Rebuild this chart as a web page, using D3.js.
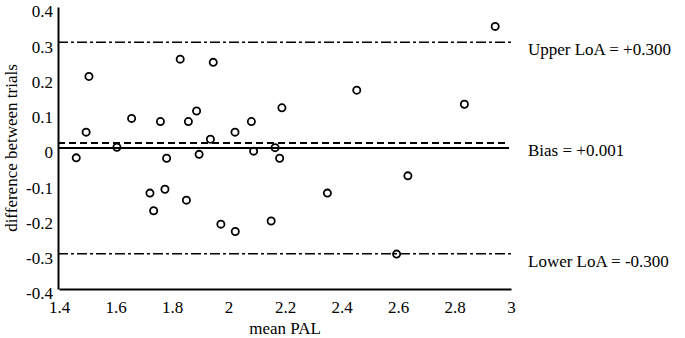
<!DOCTYPE html>
<html>
<head>
<meta charset="utf-8">
<script src="https://cdn.jsdelivr.net/npm/d3@7"></script>
<style>
  body { margin: 0; background: #fff; }
  svg { display: block; font-family: "Liberation Serif", "Times New Roman", serif; }
</style>
</head>
<body>
<div id="chart"></div>
<script>
// mean PAL of the two trials
const meanPAL = [
  1.461, 1.496, 1.506, 1.605, 1.657, 1.722, 1.735, 1.759,
  1.775, 1.781, 1.829, 1.851, 1.858, 1.887, 1.896, 1.936,
  1.946, 1.973, 2.023, 2.024, 2.081, 2.089, 2.151, 2.165,
  2.181, 2.189, 2.350, 2.454, 2.595, 2.635, 2.835, 2.944
];
// difference between trials
const diffPAL = [
  -0.028, 0.045, 0.203, 0.002, 0.084, -0.128, -0.178, 0.075,
  -0.117, -0.029, 0.252, -0.148, 0.075, 0.105, -0.018, 0.025,
  0.243, -0.216, 0.045, -0.237, 0.075, -0.009, -0.207, 0.001,
  -0.029, 0.114, -0.128, 0.164, -0.301, -0.079, 0.124, 0.345
];

const xTicks = [1.4, 1.6, 1.8, 2, 2.2, 2.4, 2.6, 2.8, 3];
const yTicks = [-0.4, -0.3, -0.2, -0.1, 0, 0.1, 0.2, 0.3, 0.4];

// reference lines: value on y, label text
const refNames = ["upper", "bias", "zero", "lower"];
const refValues = [0.3, 0.014, 0, -0.3];
const refLabels = ["Upper LoA = +0.300", "Bias = +0.001", "", "Lower LoA = -0.300"];

const width = 685, height = 338;
const fontSize = 17;

const svg = d3.select("#chart")
  .append("svg")
  .attr("width", width)
  .attr("height", height);

svg.append("rect").attr("width", width).attr("height", height).attr("fill", "#fff");

const x = d3.scaleLinear().domain([1.4, 3]).range([59, 511]);
const y = d3.scaleLinear().domain([-0.4, 0.4]).range([289, 7]);

const fmt = d => d === 0 ? "0" : String(d);

// x axis
const xAxis = svg.append("g")
  .attr("transform", `translate(0, ${y(-0.4)})`)
  .call(d3.axisBottom(x).tickValues(xTicks).tickFormat(fmt).tickSize(0).tickPadding(12));

// y axis
const yAxis = svg.append("g")
  .attr("transform", `translate(${x(1.4) - 1}, 0)`)
  .call(d3.axisLeft(y).tickValues(yTicks).tickFormat(fmt).tickSize(0).tickPadding(5));

[xAxis, yAxis].forEach(ax => {
  ax.select(".domain").attr("stroke", "#000").attr("stroke-width", 2);
  ax.selectAll("text")
    .attr("font-family", "'Liberation Serif', serif")
    .attr("font-size", fontSize)
    .attr("fill", "#000");
});
yAxis.selectAll("text").attr("dy", "0.58em");

// reference lines
const dashes = { upper: "10,3,3,3", bias: "7,4", zero: null, lower: "10,3,3,3" };
const widths = { upper: 1.5, bias: 2, zero: 2, lower: 1.5 };

const refs = refNames.map((n, i) => ({ name: n, value: refValues[i], label: refLabels[i] }));

svg.append("g").selectAll("line")
  .data(refs)
  .join("line")
  .attr("x1", x(1.4) - 1)
  .attr("x2", d => x(3) + (d.name === "upper" || d.name === "lower" ? 2 : -2))
  .attr("y1", d => y(d.value))
  .attr("y2", d => y(d.value))
  .attr("stroke", "#000")
  .attr("stroke-width", d => widths[d.name])
  .attr("stroke-dasharray", d => dashes[d.name]);

svg.append("g").selectAll("text")
  .data(refs.filter(d => d.label))
  .join("text")
  .attr("x", x(3) + 17)
  .attr("y", d => y(d.value))
  .attr("dy", "0.75em")
  .attr("font-size", fontSize)
  .attr("fill", "#000")
  .text(d => d.label);

// points
svg.append("g").selectAll("circle")
  .data(meanPAL.map((m, i) => [m, diffPAL[i]]))
  .join("circle")
  .attr("cx", d => x(d[0]))
  .attr("cy", d => y(d[1]))
  .attr("r", 3.6)
  .attr("fill", "none")
  .attr("stroke", "#000")
  .attr("stroke-width", 1.8);

// axis titles
svg.append("text")
  .attr("x", (x(1.4) + x(3)) / 2)
  .attr("y", 334)
  .attr("text-anchor", "middle")
  .attr("font-size", fontSize)
  .attr("fill", "#000")
  .text("mean PAL");

svg.append("text")
  .attr("transform", `translate(17, ${y(0)}) rotate(-90)`)
  .attr("text-anchor", "middle")
  .attr("font-size", fontSize)
  .attr("fill", "#000")
  .text("difference between trials");
</script>
</body>
</html>
